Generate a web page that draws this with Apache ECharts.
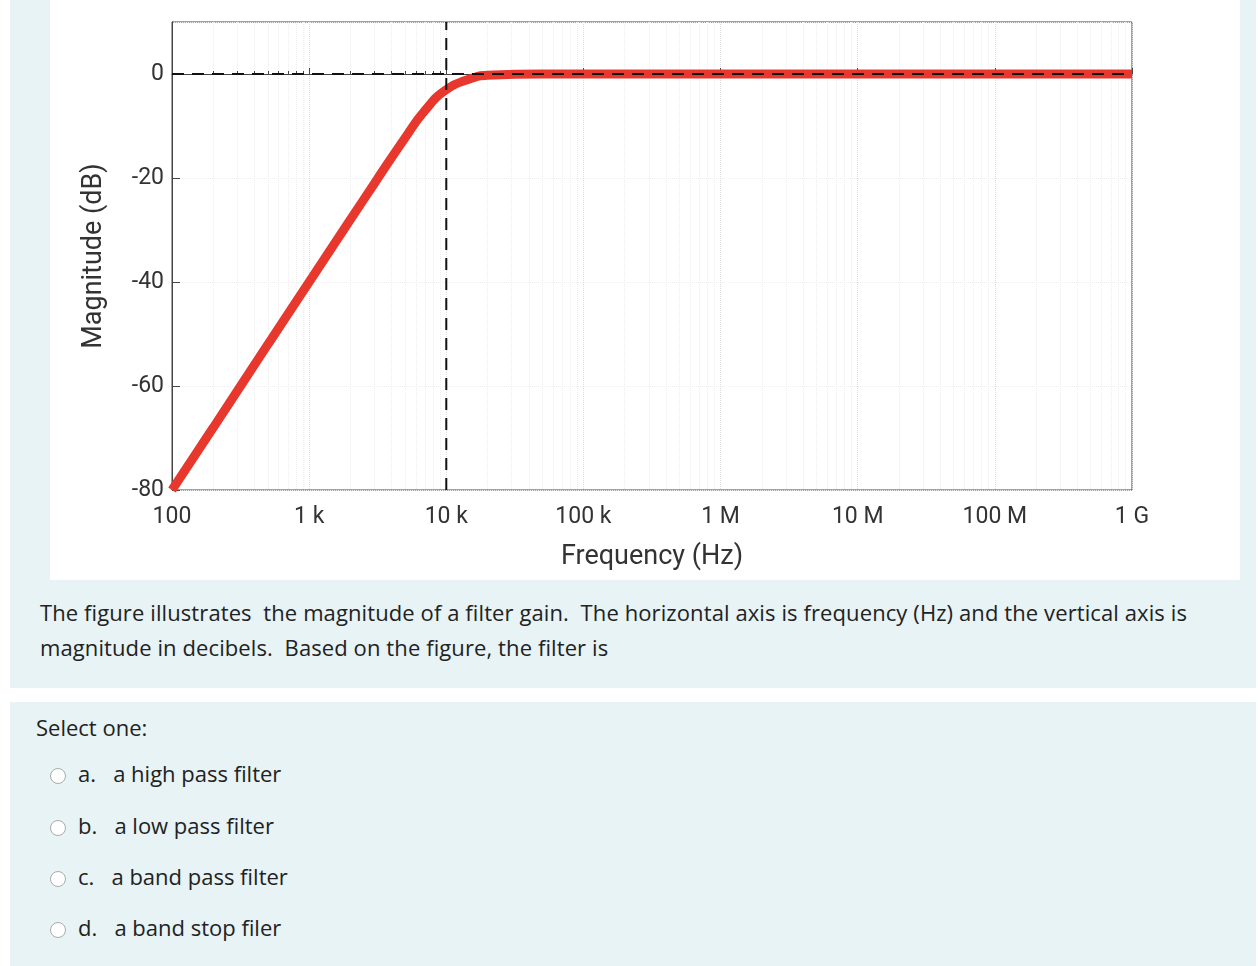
<!DOCTYPE html>
<html><head><meta charset="utf-8">
<script src="https://cdn.jsdelivr.net/npm/echarts@6/dist/echarts.min.js"></script>
<style>
body{margin:0;width:1258px;height:966px;background:#fff;font-family:"Open Sans",sans-serif;color:#222;position:relative;overflow:hidden}
#top{position:absolute;left:10px;top:0;width:1246px;height:688px;background:#e7f3f5}
#chart{position:absolute;left:50px;top:0;width:1190px;height:580px;background:#fff}
#q{position:absolute;left:40px;top:595px;font-size:22px;line-height:35px;width:1215px;letter-spacing:0.1px}
#ans{position:absolute;left:10px;top:702px;width:1246px;height:264px;background:#e7f3f5;font-size:22px}
.o{position:absolute;left:40px}
.r{display:inline-block;width:14px;height:14px;border:1px solid #aaa;border-radius:50%;background:#fff;vertical-align:middle;margin-right:12px}
</style></head><body>
<div id="top"></div><div id="chart"></div>
<div id="q">The figure illustrates &nbsp;the magnitude of a filter gain. &nbsp;The horizontal axis is frequency (Hz) and the vertical axis is magnitude in decibels. &nbsp;Based on the figure, the filter is</div>
<div id="ans">
<div style="position:absolute;left:26px;top:10px">Select one:</div>
<div class="o" style="top:56px"><span class="r"></span>a. &nbsp;&nbsp;a high pass filter</div>
<div class="o" style="top:108px"><span class="r"></span>b. &nbsp;&nbsp;a low pass filter</div>
<div class="o" style="top:159px"><span class="r"></span>c. &nbsp;&nbsp;a band pass filter</div>
<div class="o" style="top:210px"><span class="r"></span>d. &nbsp;&nbsp;a band stop filer</div>
</div>
<script>
const freqs=[100,200,500,1000,2000,3000,5000,7000,10000,15000,20000,50000,1e5,1e6,1e7,1e8,1e9];
const magDb=[-80,-68,-52,-40,-28,-21,-12.3,-7,-3,-0.9,-0.25,0,0,0,0,0,0];
const tickLabels={100:'100',1000:'1 k',10000:'10 k',100000:'100 k',1000000:'1 M',10000000:'10 M',100000000:'100 M',1000000000:'1 G'};
const cutoff=10000;
const chart=echarts.init(document.getElementById('chart'));
chart.setOption({
 animation:false,
 grid:{left:122,right:108,top:22,bottom:90,show:true,borderColor:'#444',borderWidth:1},
 xAxis:{type:'log',logBase:10,min:100,max:1e9,name:'Frequency (Hz)',nameLocation:'middle',nameGap:54,
  nameTextStyle:{fontSize:27,color:'#333',fontFamily:'Roboto'},
  axisLine:{lineStyle:{color:'#444'}},axisTick:{inside:true,length:6,lineStyle:{color:'#444'}},
  minorTick:{show:true,splitNumber:9,length:3},
  axisLabel:{fontSize:23,color:'#333',fontFamily:'Roboto',margin:16,formatter:v=>tickLabels[Math.round(v)]||''},
  splitLine:{show:true,lineStyle:{color:'#ddd',type:'dotted'}},
  minorSplitLine:{show:true,lineStyle:{color:'#eee',type:'dotted'}}},
 yAxis:{type:'value',min:-80,max:10,interval:20,name:'Magnitude (dB)',nameLocation:'middle',nameGap:64,
  nameTextStyle:{fontSize:27,color:'#333',fontFamily:'Roboto'},
  axisLine:{show:true,lineStyle:{color:'#444'}},axisTick:{show:true,inside:true,length:8,lineStyle:{color:'#444'}},
  axisLabel:{fontSize:23,color:'#333',fontFamily:'Roboto',showMaxLabel:false},
  splitLine:{show:true,lineStyle:{color:'#eee',type:'dotted'}}},
 series:[
  {type:'line',data:freqs.map((f,i)=>[f,magDb[i]]),smooth:true,showSymbol:false,lineStyle:{color:'#e8382e',width:9}},
  {type:'line',data:[[100,0],[1e9,0]],showSymbol:false,lineStyle:{color:'#111',width:2,type:[12,8]},z:5},
  {type:'line',data:[[cutoff,-80],[cutoff,10]],showSymbol:false,lineStyle:{color:'#111',width:2,type:[12,8]},z:5}
 ]
});
</script></body></html>
